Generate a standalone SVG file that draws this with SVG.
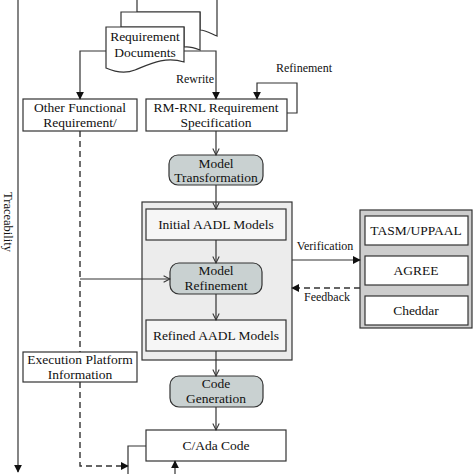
<svg xmlns="http://www.w3.org/2000/svg" width="474" height="474" viewBox="0 0 474 474">
<defs>
<style>
.t{font-family:"Liberation Serif","Times New Roman",serif;font-size:13.5px;fill:#111;text-anchor:middle}
.s{font-size:12px}
.box{fill:#fff;stroke:#333;stroke-width:1.2}
.ibox{fill:#f6f6f6;stroke:#333;stroke-width:1.2}
.proc{fill:#c9d1d1;stroke:#333;stroke-width:1.2}
.ln{fill:none;stroke:#333;stroke-width:1.2}
.dash{fill:none;stroke:#333;stroke-width:1.4;stroke-dasharray:6,4}
</style>
<marker id="v" viewBox="0 0 10 10" refX="9" refY="5" markerWidth="8" markerHeight="8" orient="auto" markerUnits="userSpaceOnUse">
<path d="M1,1 L9,5 L1,9" fill="none" stroke="#333" stroke-width="1.3"/>
</marker>
<marker id="f" viewBox="0 0 10 10" refX="9" refY="5" markerWidth="8" markerHeight="8" orient="auto" markerUnits="userSpaceOnUse">
<path d="M0,0 L10,5 L0,10 Z" fill="#111"/>
</marker>
</defs>
<rect width="474" height="474" fill="#fff"/>

<g id="traceability">
<line x1="18" y1="0" x2="18" y2="472" class="ln" marker-end="url(#f)"/>
<text class="t s" transform="translate(4,222) rotate(90)" style="font-size:12.5px">Traceability</text>
</g>

<g id="requirement-documents">
<path d="M137,-5 L217,-5 L217,36 C210,33 205,30 200,30 L200,12 L137,12 Z" class="box"/>
<path d="M121,12 L200,12 L200,50 C195,48 190,46 184,47 L184,27 L121,27 Z" class="box"/>
<path d="M106,27 L184,27 L184,62 C165,56 150,64 135,70 C125,74 115,72 106,68 Z" class="box"/>
<text class="t" x="145" y="41">Requirement</text>
<text class="t" x="145" y="57">Documents</text>
</g>

<g id="other-functional">
<rect x="23" y="99" width="114" height="32" class="box"/>
<text class="t" x="80" y="112">Other Functional</text>
<text class="t" x="80" y="127">Requirement/</text>
</g>

<g id="rm-rnl">
<rect x="146" y="99" width="141" height="32" class="box"/>
<text class="t" x="216" y="112">RM-RNL Requirement</text>
<text class="t" x="216" y="127">Specification</text>
</g>

<g id="model-transformation">
<rect x="169" y="155" width="94" height="30" rx="9" class="proc"/>
<text class="t" x="216" y="168">Model</text>
<text class="t" x="216" y="182">Transformation</text>
</g>

<g id="aadl-container">
<rect x="142" y="202" width="150" height="158" fill="#ececec" stroke="#333" stroke-width="1.2"/>
</g>

<g id="initial-aadl">
<rect x="146" y="209" width="140" height="31" class="ibox"/>
<text class="t" x="216" y="229">Initial AADL Models</text>
</g>

<g id="model-refinement">
<rect x="170" y="263" width="92" height="31" rx="9" class="proc"/>
<text class="t" x="216" y="275">Model</text>
<text class="t" x="216" y="290">Refinement</text>
</g>

<g id="refined-aadl">
<rect x="146" y="320" width="140" height="31" class="ibox"/>
<text class="t" x="216" y="340">Refined AADL Models</text>
</g>

<g id="tools">
<rect x="360" y="210" width="112" height="118" fill="#cdcdcd" stroke="#333" stroke-width="1.2"/>
<g id="tasm">
<rect x="365" y="216" width="103" height="29" class="box"/>
<text class="t" x="416" y="235">TASM/UPPAAL</text>
</g>
<g id="agree">
<rect x="365" y="256" width="103" height="29" class="box"/>
<text class="t" x="416" y="275">AGREE</text>
</g>
<g id="cheddar">
<rect x="365" y="296" width="103" height="29" class="box"/>
<text class="t" x="416" y="315">Cheddar</text>
</g>
</g>

<g id="execution-platform">
<rect x="23" y="352" width="114" height="30" class="box"/>
<text class="t" x="80" y="364">Execution Platform</text>
<text class="t" x="80" y="379">Information</text>
</g>

<g id="code-generation">
<rect x="170" y="376" width="93" height="31" rx="9" class="proc"/>
<text class="t" x="216" y="388">Code</text>
<text class="t" x="216" y="403">Generation</text>
</g>

<g id="c-ada">
<rect x="146" y="430" width="140" height="31" class="box"/>
<text class="t" x="216" y="450">C/Ada Code</text>
</g>

<g id="connectors">
<polyline points="106,51 80,51 80,99" class="ln" marker-end="url(#f)"/>
<polyline points="184,51 216,51 216,99" class="ln" marker-end="url(#f)"/>
<text class="t s" x="195" y="83">Rewrite</text>
<polyline points="287,113 297,113 297,83 257,83 257,99" class="ln" marker-end="url(#f)"/>
<text class="t s" x="304" y="72">Refinement</text>
<line x1="216" y1="131" x2="216" y2="155" class="ln" marker-end="url(#v)"/>
<line x1="216" y1="185" x2="216" y2="209" class="ln" marker-end="url(#v)"/>
<line x1="216" y1="240" x2="216" y2="263" class="ln" marker-end="url(#v)"/>
<line x1="216" y1="294" x2="216" y2="320" class="ln" marker-end="url(#v)"/>
<line x1="216" y1="351" x2="216" y2="376" class="ln" marker-end="url(#v)"/>
<line x1="216" y1="407" x2="216" y2="430" class="ln" marker-end="url(#v)"/>
<line x1="80" y1="131" x2="80" y2="352" class="dash"/>
<line x1="80" y1="279" x2="170" y2="279" class="ln" marker-end="url(#v)"/>
<line x1="292" y1="260" x2="360" y2="260" class="ln" marker-end="url(#f)"/>
<text class="t s" x="325" y="250">Verification</text>
<line x1="360" y1="288" x2="292" y2="288" class="dash" marker-end="url(#f)"/>
<text class="t s" x="327" y="301">Feedback</text>
<polyline points="80,382 80,466 128,466" class="dash" marker-end="url(#f)"/>
<polyline points="146,446 128,446 128,476" class="ln"/>
<line x1="175" y1="476" x2="175" y2="461" class="ln" marker-end="url(#f)"/>
</g>
</svg>
